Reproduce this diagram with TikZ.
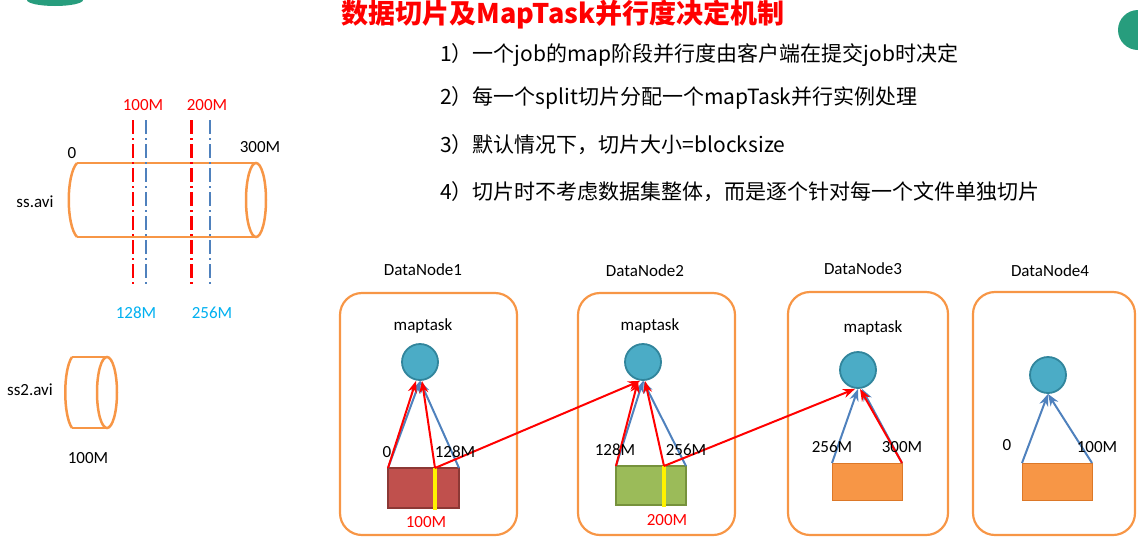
\documentclass[tikz,border=0pt]{standalone}
\usepackage{fontspec}
\setmainfont{Carlito}
\newfontfamily\cjk{Noto Sans CJK SC}
\usetikzlibrary{arrows.meta}
\definecolor{org}{RGB}{247,150,70}
\definecolor{teal1}{RGB}{75,172,198}
\definecolor{tealb}{RGB}{49,133,156}
\definecolor{bl}{RGB}{79,129,189}
\definecolor{lb}{RGB}{0,176,240}
\tikzset{
 dn/.style={draw=org,line width=2.2pt,rounded corners=22pt},
 mt/.style={circle,draw=tealb,fill=teal1,line width=1.8pt,minimum size=36pt,inner sep=0},
 lbl/.style={font=\fontsize{17}{18}\selectfont,inner sep=0},
 ra/.style={red,line width=2pt,-{Stealth[length=12pt,width=9pt]}},
 ba/.style={bl,line width=2pt,-{Stealth[length=12pt,width=9pt]}},
 cyl/.style={draw=org,line width=2.5pt},
 bul/.style={anchor=west,font=\fontsize{21}{22}\selectfont\cjk,inner sep=0},
}
\begin{document}
\begin{tikzpicture}[x=1pt,y=-1pt]
\useasboundingbox (0,0) rectangle (1138,542);
\fill[tealb!80!green] (55,0) ellipse (28 and 6);
\fill[tealb!80!green] (1138,30) circle (20);
\node[red,font=\fontsize{27}{29}\selectfont\bfseries\cjk] (title) at (563,15) {数据切片及MapTask并行度决定机制};
\node[bul] (b1) at (440,55) {1）一个job的map阶段并行度由客户端在提交job时决定};
\node[bul] (b2) at (440,98) {2）每一个split切片分配一个mapTask并行实例处理};
\node[bul] (b3) at (440,145) {3）默认情况下，切片大小=blocksize};
\node[bul] (b4) at (440,192) {4）切片时不考虑数据集整体，而是逐个针对每一个文件单独切片};
% cylinder ss.avi
\draw[cyl] (77,163) -- (256,163) (77,237) -- (256,237);
\draw[cyl] (77,163) .. controls (66,175) and (66,225) .. (77,237);
\draw[cyl] (256,200) ellipse (10 and 37);
\draw[red,line width=1.5pt,dash pattern=on 14pt off 4pt on 2pt off 4pt] (133,120) -- (133,287);
\draw[bl,line width=2.5pt,dash pattern=on 14pt off 4pt on 2pt off 4pt] (146,120) -- (146,287);
\draw[red,line width=3pt,dash pattern=on 14pt off 4pt on 2pt off 4pt] (191,120) -- (191,287);
\draw[bl,line width=1.5pt,dash pattern=on 14pt off 4pt on 2pt off 4pt] (210,120) -- (210,287);
\node[lbl,red] (l100) at (143,105) {100M};
\node[lbl,red] (l200) at (207,105) {200M};
\node[lbl,lb] (l128) at (136,313) {128M};
\node[lbl,lb] (l256) at (212,313) {256M};
\node[lbl] (l0) at (72,153) {0};
\node[lbl] (l300) at (260,147) {300M};
\node[lbl] (ss) at (35,202) {ss.avi};
% ss2
\draw[cyl] (72,357) -- (107,357) (72,428) -- (107,428);
\draw[cyl] (72,357) .. controls (63,370) and (63,415) .. (72,428);
\draw[cyl] (107,392.5) ellipse (10 and 35.5);
\node[lbl] (ss2) at (30,390) {ss2.avi};
\node[lbl] (s100) at (88,458) {100M};
% datanodes
\draw[dn] (340,293) rectangle (517,535);
\draw[dn] (578,293) rectangle (735,535);
\draw[dn] (788,292) rectangle (948,535);
\draw[dn] (973,292) rectangle (1135,535);
\node[lbl] (d1) at (423,270) {DataNode1};
\node[lbl] (d2) at (645,271) {DataNode2};
\node[lbl] (d3) at (863,269) {DataNode3};
\node[lbl] (d4) at (1050,271) {DataNode4};
\node[lbl] (m1) at (423,326) {maptask};
\node[lbl] (m2) at (650,326) {maptask};
\node[lbl] (m3) at (873,328) {maptask};
\node[mt] (c1) at (420,362) {};
\node[mt] (c2) at (643,362) {};
\node[mt] (c3) at (858,370) {};
\node[mt] (c4) at (1048,375) {};
% blocks
\draw[fill={rgb,255:red,192;green,80;blue,77},draw={rgb,255:red,140;green,56;blue,53},line width=1.5pt] (388,468) coordinate (a1) rectangle (459,508);
\coordinate (a1r) at (459,468);
\draw[yellow,line width=4pt] (435,468) coordinate (y1) -- (435,510);
\draw[fill={rgb,255:red,155;green,187;blue,89},draw={rgb,255:red,118;green,146;blue,60},line width=1.5pt] (616,466) coordinate (a2) rectangle (686,505);
\coordinate (a2r) at (686,466);
\draw[yellow,line width=4pt] (664,466) coordinate (y2) -- (664,507);
\draw[fill=org,draw={rgb,255:red,220;green,120;blue,40},line width=1pt] (832,463) coordinate (a3) rectangle (902,500);
\coordinate (a3r) at (902,463);
\draw[fill=org,draw={rgb,255:red,220;green,120;blue,40},line width=1pt] (1022,463) coordinate (a4) rectangle (1092,500);
\coordinate (a4r) at (1092,463);
% arrows
\draw[ba] (a1) -- (c1.south);
\draw[ba] (a1r) -- (c1.south);
\draw[ra] (a1) -- ([xshift=-4pt]c1.south);
\draw[ra] (y1) -- ([xshift=2pt]c1.south);
\draw[ra] (y1) -- ([xshift=-3pt]c2.south);
\draw[ba] (a2) -- (c2.south);
\draw[ba] (a2r) -- (c2.south);
\draw[ra] (a2) -- ([xshift=-5pt]c2.south);
\draw[ra] (y2) -- ([xshift=2pt]c2.south);
\draw[ra] (y2) -- ([xshift=-3pt]c3.south);
\draw[ba] (a3) -- (c3.south);
\draw[ba] (a3r) -- ([xshift=4pt]c3.south);
\draw[ra] (a3r) -- ([xshift=2pt]c3.south);
\draw[ba] (a4) -- (c4.south);
\draw[ba] (a4r) -- (c4.south);
\node[lbl] (t1) at (387,452) {0};
\node[lbl] (t2) at (455,452) {128M};
\node[lbl,red] (t3) at (426,522) {100M};
\node[lbl] (t4) at (615,450) {128M};
\node[lbl] (t5) at (686,450) {256M};
\node[lbl,red] (t6) at (667,520) {200M};
\node[lbl] (t7) at (832,447) {256M};
\node[lbl] (t8) at (902,447) {300M};
\node[lbl] (t9) at (1007,445) {0};
\node[lbl] (t10) at (1097,447) {100M};
\end{tikzpicture}
\end{document}
